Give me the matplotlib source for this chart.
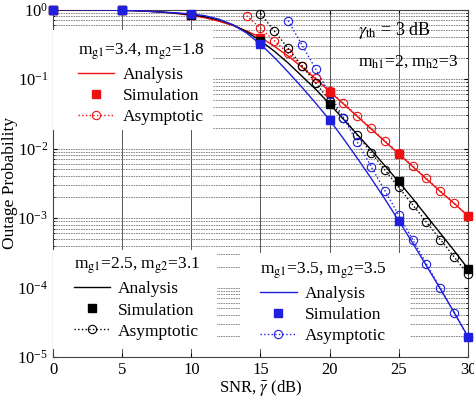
import numpy as np
import matplotlib
matplotlib.use('Agg')
import matplotlib.pyplot as plt
from matplotlib.ticker import LogLocator, NullFormatter, FixedLocator
from matplotlib.patches import Rectangle
from matplotlib.legend import Legend

plt.rcParams['font.family'] = ['Liberation Serif', 'DejaVu Serif']
plt.rcParams['mathtext.fontset'] = 'stix'

# ---------------- data (log10 of outage probability) ----------------
snr = list(range(0, 31))
red_analysis_log10 = [-0.002, -0.003, -0.004, -0.006, -0.008, -0.012, -0.018, -0.027, -0.04, -0.06,
                      -0.085, -0.12, -0.17, -0.23, -0.31, -0.40, -0.53, -0.67, -0.83, -1.00,
                      -1.18, -1.36, -1.54, -1.72, -1.90, -2.08, -2.26, -2.44, -2.62, -2.79, -2.97]
black_analysis_log10 = [-0.002, -0.003, -0.004, -0.006, -0.008, -0.012, -0.018, -0.027, -0.04, -0.055,
                        -0.075, -0.105, -0.15, -0.22, -0.32, -0.45, -0.60, -0.77, -0.96, -1.15,
                        -1.36, -1.58, -1.80, -2.02, -2.25, -2.48, -2.72, -2.97, -3.22, -3.47, -3.73]
blue_analysis_log10 = [-0.002, -0.003, -0.004, -0.006, -0.008, -0.012, -0.018, -0.027, -0.038, -0.05,
                       -0.065, -0.09, -0.14, -0.22, -0.34, -0.50, -0.69, -0.90, -1.12, -1.35,
                       -1.59, -1.86, -2.14, -2.43, -2.73, -3.04, -3.36, -3.69, -4.02, -4.36, -4.71]

sim_snr = [0, 5, 10, 15, 20, 25, 30]
red_sim_log10 = [-0.002, -0.012, -0.085, -0.41, -1.19, -2.08, -2.97]
black_sim_log10 = [-0.002, -0.012, -0.075, -0.45, -1.36, -2.47, -3.73]
blue_sim_log10 = [-0.002, -0.012, -0.065, -0.50, -1.59, -3.05, -4.71]

red_asym_snr = list(range(14, 31))
red_asym_log10 = [-0.09, -0.27, -0.45, -0.63, -0.81, -0.99, -1.17, -1.35, -1.53, -1.71,
                  -1.89, -2.07, -2.25, -2.43, -2.61, -2.79, -2.97]
black_asym_snr = list(range(15, 31))
black_asym_log10 = [-0.06, -0.31, -0.56, -0.81, -1.06, -1.31, -1.56, -1.81, -2.06, -2.31,
                    -2.56, -2.81, -3.06, -3.31, -3.56, -3.81]
blue_asym_snr = list(range(17, 31))
blue_asym_log10 = [-0.16, -0.51, -0.86, -1.21, -1.56, -1.91, -2.26, -2.61, -2.96, -3.31,
                   -3.66, -4.01, -4.36, -4.71]

xticks = [0, 5, 10, 15, 20, 25, 30]

def p(v):
    return 10.0 ** np.asarray(v)

RED = '#ee1111'
BLUE = '#1f1fe0'
BLACK = '#000000'

fig = plt.figure(figsize=(4.74, 3.99), dpi=100)
ax = fig.add_axes([53/474, 1-357/399, 415/474, 347.5/399])
ax.set_yscale('log')
ax.set_xlim(0, 30)
ax.set_ylim(1e-5, 1)

ax.xaxis.set_major_locator(FixedLocator(xticks))
ax.yaxis.set_major_locator(LogLocator(base=10, numticks=20))
ax.yaxis.set_minor_locator(LogLocator(base=10, subs=np.arange(2, 10), numticks=40))
ax.yaxis.set_minor_formatter(NullFormatter())
ax.grid(axis='x', which='major', color='#555555', lw=0.7, ls='-')
ax.grid(axis='y', which='both', color='#777777', lw=0.6, ls=(0, (2, 1)))
ax.set_axisbelow(True)
ax.tick_params(direction='in', labelsize=12, length=3, top=True, right=True)
ax.tick_params(which='minor', direction='in', length=1.5, right=True)
for s in ax.spines.values():
    s.set_color('#444444')
    s.set_linewidth(0.8)

def draw(snr_a, ana, snr_s, sim, snr_z, asy, color):
    la, = ax.plot(snr_a, p(ana), '-', color=color, lw=1.0, zorder=3)
    ls_, = ax.plot(snr_s, p(sim), 's', color=color, ms=5.5, ls='none', zorder=4, clip_on=False)
    lz, = ax.plot(snr_z, p(asy), ':', color=color, lw=1.0, marker='o', ms=6.0,
                  mfc='none', mec=color, mew=0.8, zorder=3, clip_on=False)
    return la, ls_, lz

hr = draw(snr, red_analysis_log10, sim_snr, red_sim_log10, red_asym_snr, red_asym_log10, RED)
hk = draw(snr, black_analysis_log10, sim_snr, black_sim_log10, black_asym_snr, black_asym_log10, BLACK)
hb = draw(snr, blue_analysis_log10, sim_snr, blue_sim_log10, blue_asym_snr, blue_asym_log10, BLUE)

# white legend backgrounds (axes fraction)
for (x0, y0, x1, y1) in [(0.0, 0.653, 0.3855, 0.941),
                         (0.0, 0.022, 0.395, 0.308),
                         (0.4506, 0.022, 0.860, 0.299)]:
    ax.add_patch(Rectangle((x0, y0), x1 - x0, y1 - y0, transform=ax.transAxes,
                           facecolor='white', edgecolor='none', zorder=4.5))

labels = ['Analysis', 'Simulation', 'Asymptotic']
common = dict(loc='upper left', frameon=False, fontsize=12.5, title_fontsize=12.5,
              handlelength=2.1, handletextpad=0.46, labelspacing=0.28,
              borderpad=0.0, borderaxespad=0)

def mklegend(h, title, anchor):
    leg = Legend(ax, list(h), labels, title=title, bbox_to_anchor=anchor,
                 bbox_transform=ax.transAxes, **common)
    leg._legend_box.align = 'left'
    leg.set_zorder(5)
    ax.add_artist(leg)
    return leg

mklegend(hr, r'm$_{\rm g1}$=3.4, m$_{\rm g2}$=1.8', (0.0602, 0.909))
mklegend(hk, r'm$_{\rm g1}$=2.5, m$_{\rm g2}$=3.1', (0.05, 0.291))
mklegend(hb, r'm$_{\rm g1}$=3.5, m$_{\rm g2}$=3.5', (0.499, 0.279))

ax.text(0.735, 0.941, r'$\gamma_{\rm th}$ = 3 dB', transform=ax.transAxes,
        fontsize=13, va='center', ha='left', zorder=6)
ax.text(0.735, 0.849, r'm$_{\rm h1}$=2, m$_{\rm h2}$=3', transform=ax.transAxes,
        fontsize=12.5, va='center', ha='left', zorder=6)

ax.set_xlabel(r'SNR, $\bar{\gamma}$ (dB)', fontsize=12)
ax.xaxis.set_label_coords(0.5, -0.089)
ax.xaxis.label.set_va('center')
ax.set_ylabel('Outage Probability', fontsize=12.5)
ax.yaxis.set_label_coords(-0.104, 0.5)
ax.yaxis.label.set_va('center')

fig.savefig('out.png', dpi=100)
